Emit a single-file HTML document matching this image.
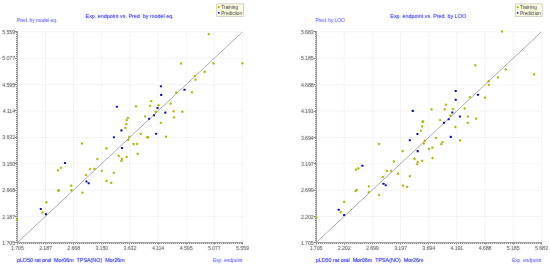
<!DOCTYPE html>
<html><head><meta charset="utf-8"><title>Exp. endpoint vs. Pred.</title>
<style>
html,body{margin:0;padding:0;background:#fff;}
body{width:550px;height:265px;overflow:hidden;}
svg{display:block;}
text{font-family:"Liberation Sans",Arial,sans-serif;}
.g{stroke:#efefef;stroke-width:0.7;}
.d{stroke:#909090;stroke-width:0.72;}
.tl{letter-spacing:-0.16px;font-size:5.4px;fill:#3c3c3c;stroke:#3c3c3c;stroke-width:0px;}
.yl{font-size:5.05px;fill:#4040ff;letter-spacing:-0.11px;}
.ti{font-size:5.4px;fill:#0000f4;font-weight:normal;stroke:#0000f4;stroke-width:0.03px;}
.bl{font-size:5.36px;fill:#0c0cf4;font-weight:normal;stroke:#0c0cf4;stroke-width:0.07px;}
.pt{fill:#bcc800;stroke:#9a9e00;stroke-width:0.45px;}
.pp{fill:#1010c0;}
.lg{fill:#ffffe6;stroke:#b8b8a8;stroke-width:0.6;}
.lt{font-size:4.72px;fill:#262626;}
</style></head>
<body>
<svg width="550" height="265" viewBox="0 0 550 265">
<defs><filter id="bl" x="0" y="0" width="550" height="265" filterUnits="userSpaceOnUse"><feConvolveMatrix order="3" kernelMatrix="1 2 1 2 24 2 1 2 1" divisor="36" edgeMode="none"/></filter></defs>
<rect width="550" height="265" fill="#fff"/>
<line x1="45.52" y1="31.6" x2="45.52" y2="242.5" class="g"/>
<line x1="73.65" y1="31.6" x2="73.65" y2="242.5" class="g"/>
<line x1="101.78" y1="31.6" x2="101.78" y2="242.5" class="g"/>
<line x1="129.9" y1="31.6" x2="129.9" y2="242.5" class="g"/>
<line x1="158.03" y1="31.6" x2="158.03" y2="242.5" class="g"/>
<line x1="186.15" y1="31.6" x2="186.15" y2="242.5" class="g"/>
<line x1="214.28" y1="31.6" x2="214.28" y2="242.5" class="g"/>
<line x1="242.4" y1="31.6" x2="242.4" y2="242.5" class="g"/>
<line x1="17.4" y1="31.9" x2="242.4" y2="31.9" class="g"/>
<line x1="17.4" y1="58.26" x2="242.4" y2="58.26" class="g"/>
<line x1="17.4" y1="84.62" x2="242.4" y2="84.62" class="g"/>
<line x1="17.4" y1="110.99" x2="242.4" y2="110.99" class="g"/>
<line x1="17.4" y1="137.35" x2="242.4" y2="137.35" class="g"/>
<line x1="17.4" y1="163.71" x2="242.4" y2="163.71" class="g"/>
<line x1="17.4" y1="190.08" x2="242.4" y2="190.08" class="g"/>
<line x1="17.4" y1="216.44" x2="242.4" y2="216.44" class="g"/>
<rect x="17" y="31" width="1" height="212" fill="#a4a4a4"/>
<rect x="17" y="242" width="226" height="1" fill="#a4a4a4"/>
<rect x="17" y="243" width="226" height="1" fill="#dcdcdc"/>
<rect x="16" y="31" width="1" height="212" fill="#dcdcdc"/>
<path d="M17 243h1v1h-1zM19 243h1v1h-1zM21 243h1v1h-1zM23 243h1v1h-1zM25 243h1v1h-1zM27 243h1v1h-1zM29 243h1v1h-1zM31 243h1v1h-1zM33 243h1v1h-1zM35 243h1v1h-1zM37 243h1v1h-1zM39 243h1v1h-1zM41 243h1v1h-1zM43 243h1v1h-1zM45 243h1v1h-1zM47 243h1v1h-1zM49 243h1v1h-1zM51 243h1v1h-1zM53 243h1v1h-1zM55 243h1v1h-1zM57 243h1v1h-1zM59 243h1v1h-1zM61 243h1v1h-1zM63 243h1v1h-1zM65 243h1v1h-1zM67 243h1v1h-1zM69 243h1v1h-1zM71 243h1v1h-1zM73 243h1v1h-1zM75 243h1v1h-1zM77 243h1v1h-1zM79 243h1v1h-1zM81 243h1v1h-1zM83 243h1v1h-1zM85 243h1v1h-1zM87 243h1v1h-1zM89 243h1v1h-1zM91 243h1v1h-1zM93 243h1v1h-1zM95 243h1v1h-1zM97 243h1v1h-1zM99 243h1v1h-1zM101 243h1v1h-1zM103 243h1v1h-1zM105 243h1v1h-1zM107 243h1v1h-1zM109 243h1v1h-1zM111 243h1v1h-1zM113 243h1v1h-1zM115 243h1v1h-1zM117 243h1v1h-1zM119 243h1v1h-1zM121 243h1v1h-1zM123 243h1v1h-1zM125 243h1v1h-1zM127 243h1v1h-1zM129 243h1v1h-1zM131 243h1v1h-1zM133 243h1v1h-1zM135 243h1v1h-1zM137 243h1v1h-1zM139 243h1v1h-1zM141 243h1v1h-1zM143 243h1v1h-1zM145 243h1v1h-1zM147 243h1v1h-1zM149 243h1v1h-1zM151 243h1v1h-1zM153 243h1v1h-1zM155 243h1v1h-1zM157 243h1v1h-1zM159 243h1v1h-1zM161 243h1v1h-1zM163 243h1v1h-1zM165 243h1v1h-1zM167 243h1v1h-1zM169 243h1v1h-1zM171 243h1v1h-1zM173 243h1v1h-1zM175 243h1v1h-1zM177 243h1v1h-1zM179 243h1v1h-1zM181 243h1v1h-1zM183 243h1v1h-1zM185 243h1v1h-1zM187 243h1v1h-1zM189 243h1v1h-1zM191 243h1v1h-1zM193 243h1v1h-1zM195 243h1v1h-1zM197 243h1v1h-1zM199 243h1v1h-1zM201 243h1v1h-1zM203 243h1v1h-1zM205 243h1v1h-1zM207 243h1v1h-1zM209 243h1v1h-1zM211 243h1v1h-1zM213 243h1v1h-1zM215 243h1v1h-1zM217 243h1v1h-1zM219 243h1v1h-1zM221 243h1v1h-1zM223 243h1v1h-1zM225 243h1v1h-1zM227 243h1v1h-1zM229 243h1v1h-1zM231 243h1v1h-1zM233 243h1v1h-1zM235 243h1v1h-1zM237 243h1v1h-1zM239 243h1v1h-1zM241 243h1v1h-1zM16 242h1v1h-1zM16 240h1v1h-1zM16 238h1v1h-1zM16 236h1v1h-1zM16 234h1v1h-1zM16 232h1v1h-1zM16 230h1v1h-1zM16 228h1v1h-1zM16 226h1v1h-1zM16 224h1v1h-1zM16 222h1v1h-1zM16 220h1v1h-1zM16 218h1v1h-1zM16 216h1v1h-1zM16 214h1v1h-1zM16 212h1v1h-1zM16 210h1v1h-1zM16 208h1v1h-1zM16 206h1v1h-1zM16 204h1v1h-1zM16 202h1v1h-1zM16 200h1v1h-1zM16 198h1v1h-1zM16 196h1v1h-1zM16 194h1v1h-1zM16 192h1v1h-1zM16 190h1v1h-1zM16 188h1v1h-1zM16 186h1v1h-1zM16 184h1v1h-1zM16 182h1v1h-1zM16 180h1v1h-1zM16 178h1v1h-1zM16 176h1v1h-1zM16 174h1v1h-1zM16 172h1v1h-1zM16 170h1v1h-1zM16 168h1v1h-1zM16 166h1v1h-1zM16 164h1v1h-1zM16 162h1v1h-1zM16 160h1v1h-1zM16 158h1v1h-1zM16 156h1v1h-1zM16 154h1v1h-1zM16 152h1v1h-1zM16 150h1v1h-1zM16 148h1v1h-1zM16 146h1v1h-1zM16 144h1v1h-1zM16 142h1v1h-1zM16 140h1v1h-1zM16 138h1v1h-1zM16 136h1v1h-1zM16 134h1v1h-1zM16 132h1v1h-1zM16 130h1v1h-1zM16 128h1v1h-1zM16 126h1v1h-1zM16 124h1v1h-1zM16 122h1v1h-1zM16 120h1v1h-1zM16 118h1v1h-1zM16 116h1v1h-1zM16 114h1v1h-1zM16 112h1v1h-1zM16 110h1v1h-1zM16 108h1v1h-1zM16 106h1v1h-1zM16 104h1v1h-1zM16 102h1v1h-1zM16 100h1v1h-1zM16 98h1v1h-1zM16 96h1v1h-1zM16 94h1v1h-1zM16 92h1v1h-1zM16 90h1v1h-1zM16 88h1v1h-1zM16 86h1v1h-1zM16 84h1v1h-1zM16 82h1v1h-1zM16 80h1v1h-1zM16 78h1v1h-1zM16 76h1v1h-1zM16 74h1v1h-1zM16 72h1v1h-1zM16 70h1v1h-1zM16 68h1v1h-1zM16 66h1v1h-1zM16 64h1v1h-1zM16 62h1v1h-1zM16 60h1v1h-1zM16 58h1v1h-1zM16 56h1v1h-1zM16 54h1v1h-1zM16 52h1v1h-1zM16 50h1v1h-1zM16 48h1v1h-1zM16 46h1v1h-1zM16 44h1v1h-1zM16 42h1v1h-1zM16 40h1v1h-1zM16 38h1v1h-1zM16 36h1v1h-1zM16 34h1v1h-1zM16 32h1v1h-1z" fill="#8e8e8e"/>
<path d="M17 243h1v1.6h-1zM14.6 242h2.4v1h-2.4zM45 243h1v1.6h-1zM14.6 216h2.4v1h-2.4zM73 243h1v1.6h-1zM14.6 190h2.4v1h-2.4zM101 243h1v1.6h-1zM14.6 163h2.4v1h-2.4zM129 243h1v1.6h-1zM14.6 137h2.4v1h-2.4zM158 243h1v1.6h-1zM14.6 110h2.4v1h-2.4zM186 243h1v1.6h-1zM14.6 84h2.4v1h-2.4zM214 243h1v1.6h-1zM14.6 58h2.4v1h-2.4zM242 243h1v1.6h-1zM14.6 31h2.4v1h-2.4z" fill="#949494"/>
<line x1="17.4" y1="242.6" x2="242.2" y2="32.1" class="d"/>
<rect x="207.93" y="33.23" width="1.75" height="1.75" rx="0.5" class="pt"/>
<rect x="180.22" y="62.62" width="1.75" height="1.75" rx="0.5" class="pt"/>
<rect x="212.53" y="62.52" width="1.75" height="1.75" rx="0.5" class="pt"/>
<rect x="241.53" y="62.42" width="1.75" height="1.75" rx="0.5" class="pt"/>
<rect x="203.82" y="70.92" width="1.75" height="1.75" rx="0.5" class="pt"/>
<rect x="193.93" y="75.12" width="1.75" height="1.75" rx="0.5" class="pt"/>
<rect x="194.62" y="78.72" width="1.75" height="1.75" rx="0.5" class="pt"/>
<rect x="175.32" y="91.72" width="1.75" height="1.75" rx="0.5" class="pt"/>
<rect x="191.12" y="91.42" width="1.75" height="1.75" rx="0.5" class="pt"/>
<rect x="150.43" y="100.22" width="1.75" height="1.75" rx="0.5" class="pt"/>
<rect x="135.12" y="105.53" width="1.75" height="1.75" rx="0.5" class="pt"/>
<rect x="149.22" y="104.92" width="1.75" height="1.75" rx="0.5" class="pt"/>
<rect x="157.62" y="104.33" width="1.75" height="1.75" rx="0.5" class="pt"/>
<rect x="169.62" y="102.72" width="1.75" height="1.75" rx="0.5" class="pt"/>
<rect x="154.93" y="110.92" width="1.75" height="1.75" rx="0.5" class="pt"/>
<rect x="172.72" y="110.42" width="1.75" height="1.75" rx="0.5" class="pt"/>
<rect x="181.53" y="110.83" width="1.75" height="1.75" rx="0.5" class="pt"/>
<rect x="144.22" y="115.62" width="1.75" height="1.75" rx="0.5" class="pt"/>
<rect x="173.12" y="116.53" width="1.75" height="1.75" rx="0.5" class="pt"/>
<rect x="127.03" y="117.12" width="1.75" height="1.75" rx="0.5" class="pt"/>
<rect x="125.72" y="119.22" width="1.75" height="1.75" rx="0.5" class="pt"/>
<rect x="125.53" y="123.33" width="1.75" height="1.75" rx="0.5" class="pt"/>
<rect x="124.53" y="127.03" width="1.75" height="1.75" rx="0.5" class="pt"/>
<rect x="160.03" y="121.92" width="1.75" height="1.75" rx="0.5" class="pt"/>
<rect x="139.93" y="132.93" width="1.75" height="1.75" rx="0.5" class="pt"/>
<rect x="146.22" y="136.43" width="1.75" height="1.75" rx="0.5" class="pt"/>
<rect x="147.32" y="136.32" width="1.75" height="1.75" rx="0.5" class="pt"/>
<rect x="165.12" y="135.82" width="1.75" height="1.75" rx="0.5" class="pt"/>
<rect x="128.32" y="136.22" width="1.75" height="1.75" rx="0.5" class="pt"/>
<rect x="127.32" y="138.93" width="1.75" height="1.75" rx="0.5" class="pt"/>
<rect x="132.62" y="143.12" width="1.75" height="1.75" rx="0.5" class="pt"/>
<rect x="136.22" y="143.12" width="1.75" height="1.75" rx="0.5" class="pt"/>
<rect x="136.82" y="152.93" width="1.75" height="1.75" rx="0.5" class="pt"/>
<rect x="81.12" y="142.53" width="1.75" height="1.75" rx="0.5" class="pt"/>
<rect x="105.62" y="147.53" width="1.75" height="1.75" rx="0.5" class="pt"/>
<rect x="117.92" y="155.03" width="1.75" height="1.75" rx="0.5" class="pt"/>
<rect x="125.72" y="155.93" width="1.75" height="1.75" rx="0.5" class="pt"/>
<rect x="121.03" y="157.93" width="1.75" height="1.75" rx="0.5" class="pt"/>
<rect x="120.53" y="159.93" width="1.75" height="1.75" rx="0.5" class="pt"/>
<rect x="96.53" y="158.22" width="1.75" height="1.75" rx="0.5" class="pt"/>
<rect x="89.03" y="168.22" width="1.75" height="1.75" rx="0.5" class="pt"/>
<rect x="93.62" y="167.93" width="1.75" height="1.75" rx="0.5" class="pt"/>
<rect x="100.92" y="169.93" width="1.75" height="1.75" rx="0.5" class="pt"/>
<rect x="112.92" y="171.93" width="1.75" height="1.75" rx="0.5" class="pt"/>
<rect x="85.12" y="174.22" width="1.75" height="1.75" rx="0.5" class="pt"/>
<rect x="105.72" y="180.12" width="1.75" height="1.75" rx="0.5" class="pt"/>
<rect x="110.42" y="181.93" width="1.75" height="1.75" rx="0.5" class="pt"/>
<rect x="60.12" y="166.93" width="1.75" height="1.75" rx="0.5" class="pt"/>
<rect x="57.12" y="169.43" width="1.75" height="1.75" rx="0.5" class="pt"/>
<rect x="70.42" y="184.82" width="1.75" height="1.75" rx="0.5" class="pt"/>
<rect x="57.52" y="189.53" width="1.75" height="1.75" rx="0.5" class="pt"/>
<rect x="57.92" y="189.72" width="1.75" height="1.75" rx="0.5" class="pt"/>
<rect x="70.53" y="189.53" width="1.75" height="1.75" rx="0.5" class="pt"/>
<rect x="81.62" y="191.82" width="1.75" height="1.75" rx="0.5" class="pt"/>
<rect x="45.52" y="201.43" width="1.75" height="1.75" rx="0.5" class="pt"/>
<rect x="41.62" y="211.62" width="1.75" height="1.75" rx="0.5" class="pt"/>
<rect x="16.12" y="218.43" width="1.75" height="1.75" rx="0.5" class="pt"/>
<rect x="159.85" y="85.15" width="2.1" height="2.1" rx="0.5" class="pp"/>
<rect x="160.15" y="93.85" width="2.1" height="2.1" rx="0.5" class="pp"/>
<rect x="183.45" y="88.65" width="2.1" height="2.1" rx="0.5" class="pp"/>
<rect x="156.45" y="106.95" width="2.1" height="2.1" rx="0.5" class="pp"/>
<rect x="164.25" y="111.55" width="2.1" height="2.1" rx="0.5" class="pp"/>
<rect x="152.95" y="114.25" width="2.1" height="2.1" rx="0.5" class="pp"/>
<rect x="148.05" y="117.65" width="2.1" height="2.1" rx="0.5" class="pp"/>
<rect x="155.05" y="132.75" width="2.1" height="2.1" rx="0.5" class="pp"/>
<rect x="115.85" y="105.65" width="2.1" height="2.1" rx="0.5" class="pp"/>
<rect x="120.35" y="129.35" width="2.1" height="2.1" rx="0.5" class="pp"/>
<rect x="112.85" y="136.15" width="2.1" height="2.1" rx="0.5" class="pp"/>
<rect x="120.95" y="146.95" width="2.1" height="2.1" rx="0.5" class="pp"/>
<rect x="85.45" y="180.45" width="2.1" height="2.1" rx="0.5" class="pp"/>
<rect x="87.65" y="182.25" width="2.1" height="2.1" rx="0.5" class="pp"/>
<rect x="63.95" y="161.95" width="2.1" height="2.1" rx="0.5" class="pp"/>
<rect x="39.75" y="207.95" width="2.1" height="2.1" rx="0.5" class="pp"/>
<rect x="44.85" y="213.05" width="2.1" height="2.1" rx="0.5" class="pp"/>
<rect x="216.8" y="3.9" width="26.6" height="12.5" class="lg"/>
<circle cx="218.8" cy="7.2" r="0.9" class="pt"/>
<rect x="218" y="12.1" width="1.6" height="1.6" class="pp"/>
<line x1="344.18" y1="31.6" x2="344.18" y2="242.6" class="g"/>
<line x1="372.35" y1="31.6" x2="372.35" y2="242.6" class="g"/>
<line x1="400.52" y1="31.6" x2="400.52" y2="242.6" class="g"/>
<line x1="428.7" y1="31.6" x2="428.7" y2="242.6" class="g"/>
<line x1="456.88" y1="31.6" x2="456.88" y2="242.6" class="g"/>
<line x1="485.05" y1="31.6" x2="485.05" y2="242.6" class="g"/>
<line x1="513.22" y1="31.6" x2="513.22" y2="242.6" class="g"/>
<line x1="541.4" y1="31.6" x2="541.4" y2="242.6" class="g"/>
<line x1="316" y1="31.9" x2="541.4" y2="31.9" class="g"/>
<line x1="316" y1="58.27" x2="541.4" y2="58.27" class="g"/>
<line x1="316" y1="84.65" x2="541.4" y2="84.65" class="g"/>
<line x1="316" y1="111.02" x2="541.4" y2="111.02" class="g"/>
<line x1="316" y1="137.4" x2="541.4" y2="137.4" class="g"/>
<line x1="316" y1="163.78" x2="541.4" y2="163.78" class="g"/>
<line x1="316" y1="190.15" x2="541.4" y2="190.15" class="g"/>
<line x1="316" y1="216.53" x2="541.4" y2="216.53" class="g"/>
<rect x="316" y="31" width="1" height="212" fill="#a4a4a4"/>
<rect x="316" y="242" width="226" height="1" fill="#a4a4a4"/>
<rect x="316" y="243" width="226" height="1" fill="#dcdcdc"/>
<rect x="315" y="31" width="1" height="212" fill="#dcdcdc"/>
<path d="M316 243h1v1h-1zM318 243h1v1h-1zM320 243h1v1h-1zM322 243h1v1h-1zM324 243h1v1h-1zM326 243h1v1h-1zM328 243h1v1h-1zM330 243h1v1h-1zM332 243h1v1h-1zM334 243h1v1h-1zM336 243h1v1h-1zM338 243h1v1h-1zM340 243h1v1h-1zM342 243h1v1h-1zM344 243h1v1h-1zM346 243h1v1h-1zM348 243h1v1h-1zM350 243h1v1h-1zM352 243h1v1h-1zM354 243h1v1h-1zM356 243h1v1h-1zM358 243h1v1h-1zM360 243h1v1h-1zM362 243h1v1h-1zM364 243h1v1h-1zM366 243h1v1h-1zM368 243h1v1h-1zM370 243h1v1h-1zM372 243h1v1h-1zM374 243h1v1h-1zM376 243h1v1h-1zM378 243h1v1h-1zM380 243h1v1h-1zM382 243h1v1h-1zM384 243h1v1h-1zM386 243h1v1h-1zM388 243h1v1h-1zM390 243h1v1h-1zM392 243h1v1h-1zM394 243h1v1h-1zM396 243h1v1h-1zM398 243h1v1h-1zM400 243h1v1h-1zM402 243h1v1h-1zM404 243h1v1h-1zM406 243h1v1h-1zM408 243h1v1h-1zM410 243h1v1h-1zM412 243h1v1h-1zM414 243h1v1h-1zM416 243h1v1h-1zM418 243h1v1h-1zM420 243h1v1h-1zM422 243h1v1h-1zM424 243h1v1h-1zM426 243h1v1h-1zM428 243h1v1h-1zM430 243h1v1h-1zM432 243h1v1h-1zM434 243h1v1h-1zM436 243h1v1h-1zM438 243h1v1h-1zM440 243h1v1h-1zM442 243h1v1h-1zM444 243h1v1h-1zM446 243h1v1h-1zM448 243h1v1h-1zM450 243h1v1h-1zM452 243h1v1h-1zM454 243h1v1h-1zM456 243h1v1h-1zM458 243h1v1h-1zM460 243h1v1h-1zM462 243h1v1h-1zM464 243h1v1h-1zM466 243h1v1h-1zM468 243h1v1h-1zM470 243h1v1h-1zM472 243h1v1h-1zM474 243h1v1h-1zM476 243h1v1h-1zM478 243h1v1h-1zM480 243h1v1h-1zM482 243h1v1h-1zM484 243h1v1h-1zM486 243h1v1h-1zM488 243h1v1h-1zM490 243h1v1h-1zM492 243h1v1h-1zM494 243h1v1h-1zM496 243h1v1h-1zM498 243h1v1h-1zM500 243h1v1h-1zM502 243h1v1h-1zM504 243h1v1h-1zM506 243h1v1h-1zM508 243h1v1h-1zM510 243h1v1h-1zM512 243h1v1h-1zM514 243h1v1h-1zM516 243h1v1h-1zM518 243h1v1h-1zM520 243h1v1h-1zM522 243h1v1h-1zM524 243h1v1h-1zM526 243h1v1h-1zM528 243h1v1h-1zM530 243h1v1h-1zM532 243h1v1h-1zM534 243h1v1h-1zM536 243h1v1h-1zM538 243h1v1h-1zM540 243h1v1h-1zM315 242h1v1h-1zM315 240h1v1h-1zM315 238h1v1h-1zM315 236h1v1h-1zM315 234h1v1h-1zM315 232h1v1h-1zM315 230h1v1h-1zM315 228h1v1h-1zM315 226h1v1h-1zM315 224h1v1h-1zM315 222h1v1h-1zM315 220h1v1h-1zM315 218h1v1h-1zM315 216h1v1h-1zM315 214h1v1h-1zM315 212h1v1h-1zM315 210h1v1h-1zM315 208h1v1h-1zM315 206h1v1h-1zM315 204h1v1h-1zM315 202h1v1h-1zM315 200h1v1h-1zM315 198h1v1h-1zM315 196h1v1h-1zM315 194h1v1h-1zM315 192h1v1h-1zM315 190h1v1h-1zM315 188h1v1h-1zM315 186h1v1h-1zM315 184h1v1h-1zM315 182h1v1h-1zM315 180h1v1h-1zM315 178h1v1h-1zM315 176h1v1h-1zM315 174h1v1h-1zM315 172h1v1h-1zM315 170h1v1h-1zM315 168h1v1h-1zM315 166h1v1h-1zM315 164h1v1h-1zM315 162h1v1h-1zM315 160h1v1h-1zM315 158h1v1h-1zM315 156h1v1h-1zM315 154h1v1h-1zM315 152h1v1h-1zM315 150h1v1h-1zM315 148h1v1h-1zM315 146h1v1h-1zM315 144h1v1h-1zM315 142h1v1h-1zM315 140h1v1h-1zM315 138h1v1h-1zM315 136h1v1h-1zM315 134h1v1h-1zM315 132h1v1h-1zM315 130h1v1h-1zM315 128h1v1h-1zM315 126h1v1h-1zM315 124h1v1h-1zM315 122h1v1h-1zM315 120h1v1h-1zM315 118h1v1h-1zM315 116h1v1h-1zM315 114h1v1h-1zM315 112h1v1h-1zM315 110h1v1h-1zM315 108h1v1h-1zM315 106h1v1h-1zM315 104h1v1h-1zM315 102h1v1h-1zM315 100h1v1h-1zM315 98h1v1h-1zM315 96h1v1h-1zM315 94h1v1h-1zM315 92h1v1h-1zM315 90h1v1h-1zM315 88h1v1h-1zM315 86h1v1h-1zM315 84h1v1h-1zM315 82h1v1h-1zM315 80h1v1h-1zM315 78h1v1h-1zM315 76h1v1h-1zM315 74h1v1h-1zM315 72h1v1h-1zM315 70h1v1h-1zM315 68h1v1h-1zM315 66h1v1h-1zM315 64h1v1h-1zM315 62h1v1h-1zM315 60h1v1h-1zM315 58h1v1h-1zM315 56h1v1h-1zM315 54h1v1h-1zM315 52h1v1h-1zM315 50h1v1h-1zM315 48h1v1h-1zM315 46h1v1h-1zM315 44h1v1h-1zM315 42h1v1h-1zM315 40h1v1h-1zM315 38h1v1h-1zM315 36h1v1h-1zM315 34h1v1h-1zM315 32h1v1h-1z" fill="#8e8e8e"/>
<path d="M316 243h1v1.6h-1zM313.6 242h2.4v1h-2.4zM344 243h1v1.6h-1zM313.6 216h2.4v1h-2.4zM372 243h1v1.6h-1zM313.6 190h2.4v1h-2.4zM400 243h1v1.6h-1zM313.6 163h2.4v1h-2.4zM428 243h1v1.6h-1zM313.6 137h2.4v1h-2.4zM456 243h1v1.6h-1zM313.6 111h2.4v1h-2.4zM485 243h1v1.6h-1zM313.6 84h2.4v1h-2.4zM513 243h1v1.6h-1zM313.6 58h2.4v1h-2.4zM541 243h1v1.6h-1zM313.6 31h2.4v1h-2.4z" fill="#949494"/>
<line x1="316" y1="242.7" x2="541.2" y2="32.1" class="d"/>
<rect x="501.12" y="30.62" width="1.75" height="1.75" rx="0.5" class="pt"/>
<rect x="474.43" y="64.53" width="1.75" height="1.75" rx="0.5" class="pt"/>
<rect x="504.93" y="68.53" width="1.75" height="1.75" rx="0.5" class="pt"/>
<rect x="533.23" y="73.53" width="1.75" height="1.75" rx="0.5" class="pt"/>
<rect x="497.02" y="76.53" width="1.75" height="1.75" rx="0.5" class="pt"/>
<rect x="487.73" y="80.53" width="1.75" height="1.75" rx="0.5" class="pt"/>
<rect x="488.02" y="84.03" width="1.75" height="1.75" rx="0.5" class="pt"/>
<rect x="468.93" y="96.22" width="1.75" height="1.75" rx="0.5" class="pt"/>
<rect x="484.12" y="96.72" width="1.75" height="1.75" rx="0.5" class="pt"/>
<rect x="445.12" y="103.83" width="1.75" height="1.75" rx="0.5" class="pt"/>
<rect x="430.62" y="108.42" width="1.75" height="1.75" rx="0.5" class="pt"/>
<rect x="443.93" y="108.42" width="1.75" height="1.75" rx="0.5" class="pt"/>
<rect x="452.02" y="108.12" width="1.75" height="1.75" rx="0.5" class="pt"/>
<rect x="463.73" y="107.53" width="1.75" height="1.75" rx="0.5" class="pt"/>
<rect x="449.62" y="114.83" width="1.75" height="1.75" rx="0.5" class="pt"/>
<rect x="466.93" y="115.62" width="1.75" height="1.75" rx="0.5" class="pt"/>
<rect x="475.32" y="117.72" width="1.75" height="1.75" rx="0.5" class="pt"/>
<rect x="439.23" y="119.22" width="1.75" height="1.75" rx="0.5" class="pt"/>
<rect x="466.93" y="121.92" width="1.75" height="1.75" rx="0.5" class="pt"/>
<rect x="454.52" y="126.12" width="1.75" height="1.75" rx="0.5" class="pt"/>
<rect x="421.62" y="121.03" width="1.75" height="1.75" rx="0.5" class="pt"/>
<rect x="422.32" y="120.42" width="1.75" height="1.75" rx="0.5" class="pt"/>
<rect x="421.32" y="125.62" width="1.75" height="1.75" rx="0.5" class="pt"/>
<rect x="419.93" y="129.82" width="1.75" height="1.75" rx="0.5" class="pt"/>
<rect x="435.02" y="136.93" width="1.75" height="1.75" rx="0.5" class="pt"/>
<rect x="459.32" y="139.53" width="1.75" height="1.75" rx="0.5" class="pt"/>
<rect x="423.93" y="139.72" width="1.75" height="1.75" rx="0.5" class="pt"/>
<rect x="423.02" y="142.43" width="1.75" height="1.75" rx="0.5" class="pt"/>
<rect x="441.73" y="141.32" width="1.75" height="1.75" rx="0.5" class="pt"/>
<rect x="440.43" y="143.32" width="1.75" height="1.75" rx="0.5" class="pt"/>
<rect x="431.52" y="146.82" width="1.75" height="1.75" rx="0.5" class="pt"/>
<rect x="428.12" y="148.12" width="1.75" height="1.75" rx="0.5" class="pt"/>
<rect x="431.73" y="157.32" width="1.75" height="1.75" rx="0.5" class="pt"/>
<rect x="378.12" y="143.12" width="1.75" height="1.75" rx="0.5" class="pt"/>
<rect x="401.73" y="150.22" width="1.75" height="1.75" rx="0.5" class="pt"/>
<rect x="413.62" y="158.12" width="1.75" height="1.75" rx="0.5" class="pt"/>
<rect x="421.23" y="160.03" width="1.75" height="1.75" rx="0.5" class="pt"/>
<rect x="416.82" y="161.03" width="1.75" height="1.75" rx="0.5" class="pt"/>
<rect x="416.23" y="163.22" width="1.75" height="1.75" rx="0.5" class="pt"/>
<rect x="393.02" y="160.62" width="1.75" height="1.75" rx="0.5" class="pt"/>
<rect x="385.93" y="170.12" width="1.75" height="1.75" rx="0.5" class="pt"/>
<rect x="390.12" y="170.12" width="1.75" height="1.75" rx="0.5" class="pt"/>
<rect x="397.23" y="172.72" width="1.75" height="1.75" rx="0.5" class="pt"/>
<rect x="408.93" y="175.32" width="1.75" height="1.75" rx="0.5" class="pt"/>
<rect x="381.93" y="176.12" width="1.75" height="1.75" rx="0.5" class="pt"/>
<rect x="402.12" y="184.72" width="1.75" height="1.75" rx="0.5" class="pt"/>
<rect x="406.32" y="185.93" width="1.75" height="1.75" rx="0.5" class="pt"/>
<rect x="355.02" y="168.72" width="1.75" height="1.75" rx="0.5" class="pt"/>
<rect x="357.52" y="167.62" width="1.75" height="1.75" rx="0.5" class="pt"/>
<rect x="368.02" y="185.43" width="1.75" height="1.75" rx="0.5" class="pt"/>
<rect x="354.73" y="190.03" width="1.75" height="1.75" rx="0.5" class="pt"/>
<rect x="355.82" y="189.12" width="1.75" height="1.75" rx="0.5" class="pt"/>
<rect x="367.82" y="191.32" width="1.75" height="1.75" rx="0.5" class="pt"/>
<rect x="378.23" y="194.12" width="1.75" height="1.75" rx="0.5" class="pt"/>
<rect x="343.32" y="200.93" width="1.75" height="1.75" rx="0.5" class="pt"/>
<rect x="339.82" y="211.32" width="1.75" height="1.75" rx="0.5" class="pt"/>
<rect x="315.12" y="216.32" width="1.75" height="1.75" rx="0.5" class="pt"/>
<rect x="454.65" y="89.95" width="2.1" height="2.1" rx="0.5" class="pp"/>
<rect x="454.65" y="98.75" width="2.1" height="2.1" rx="0.5" class="pp"/>
<rect x="476.95" y="93.65" width="2.1" height="2.1" rx="0.5" class="pp"/>
<rect x="451.25" y="111.45" width="2.1" height="2.1" rx="0.5" class="pp"/>
<rect x="458.85" y="115.45" width="2.1" height="2.1" rx="0.5" class="pp"/>
<rect x="447.65" y="118.25" width="2.1" height="2.1" rx="0.5" class="pp"/>
<rect x="442.95" y="121.65" width="2.1" height="2.1" rx="0.5" class="pp"/>
<rect x="449.75" y="135.85" width="2.1" height="2.1" rx="0.5" class="pp"/>
<rect x="411.75" y="109.85" width="2.1" height="2.1" rx="0.5" class="pp"/>
<rect x="416.35" y="132.95" width="2.1" height="2.1" rx="0.5" class="pp"/>
<rect x="408.75" y="139.25" width="2.1" height="2.1" rx="0.5" class="pp"/>
<rect x="416.65" y="150.05" width="2.1" height="2.1" rx="0.5" class="pp"/>
<rect x="382.45" y="182.75" width="2.1" height="2.1" rx="0.5" class="pp"/>
<rect x="384.65" y="184.15" width="2.1" height="2.1" rx="0.5" class="pp"/>
<rect x="361.45" y="164.65" width="2.1" height="2.1" rx="0.5" class="pp"/>
<rect x="337.65" y="208.65" width="2.1" height="2.1" rx="0.5" class="pp"/>
<rect x="343.05" y="213.95" width="2.1" height="2.1" rx="0.5" class="pp"/>
<rect x="515.6" y="3.9" width="26.6" height="12.5" class="lg"/>
<circle cx="517.6" cy="7.2" r="0.9" class="pt"/>
<rect x="516.8" y="12.1" width="1.6" height="1.6" class="pp"/>
<g filter="url(#bl)">
<text x="17.4" y="250.1" class="tl" text-anchor="middle">1.705</text>
<text x="15" y="244.9" class="tl" text-anchor="end">1.705</text>
<text x="45.52" y="250.1" class="tl" text-anchor="middle">2.187</text>
<text x="15" y="218.54" class="tl" text-anchor="end">2.187</text>
<text x="73.65" y="250.1" class="tl" text-anchor="middle">2.668</text>
<text x="15" y="192.18" class="tl" text-anchor="end">2.668</text>
<text x="101.78" y="250.1" class="tl" text-anchor="middle">3.150</text>
<text x="15" y="165.81" class="tl" text-anchor="end">3.150</text>
<text x="129.9" y="250.1" class="tl" text-anchor="middle">3.632</text>
<text x="15" y="139.45" class="tl" text-anchor="end">3.632</text>
<text x="158.03" y="250.1" class="tl" text-anchor="middle">4.114</text>
<text x="15" y="113.09" class="tl" text-anchor="end">4.114</text>
<text x="186.15" y="250.1" class="tl" text-anchor="middle">4.595</text>
<text x="15" y="86.72" class="tl" text-anchor="end">4.595</text>
<text x="214.28" y="250.1" class="tl" text-anchor="middle">5.077</text>
<text x="15" y="60.36" class="tl" text-anchor="end">5.077</text>
<text x="242.4" y="250.1" class="tl" text-anchor="middle">5.559</text>
<text x="15" y="34" class="tl" text-anchor="end">5.559</text>
<text x="16.8" y="22.3" class="yl">Pred. by model eq.</text>
<text x="242.4" y="262" class="yl" text-anchor="end">Exp. endpoint</text>
<text x="17.1" y="262" class="bl" xml:space="preserve" style="white-space:pre">pLD50 rat oral  Mor06m  TPSA(NO)  Mor26m</text>
<text x="129.6" y="18.4" class="ti" text-anchor="middle">Exp. endpoint vs. Pred. by model eq.</text>
<text x="221.2" y="9.4" class="lt">Training</text>
<text x="221.2" y="15.0" class="lt">Prediction</text>
<text x="316" y="250.2" class="tl" text-anchor="middle">1.705</text>
<text x="313.6" y="245" class="tl" text-anchor="end">1.705</text>
<text x="344.18" y="250.2" class="tl" text-anchor="middle">2.202</text>
<text x="313.6" y="218.62" class="tl" text-anchor="end">2.202</text>
<text x="372.35" y="250.2" class="tl" text-anchor="middle">2.699</text>
<text x="313.6" y="192.25" class="tl" text-anchor="end">2.699</text>
<text x="400.52" y="250.2" class="tl" text-anchor="middle">3.197</text>
<text x="313.6" y="165.88" class="tl" text-anchor="end">3.197</text>
<text x="428.7" y="250.2" class="tl" text-anchor="middle">3.694</text>
<text x="313.6" y="139.5" class="tl" text-anchor="end">3.694</text>
<text x="456.88" y="250.2" class="tl" text-anchor="middle">4.191</text>
<text x="313.6" y="113.12" class="tl" text-anchor="end">4.191</text>
<text x="485.05" y="250.2" class="tl" text-anchor="middle">4.688</text>
<text x="313.6" y="86.75" class="tl" text-anchor="end">4.688</text>
<text x="513.22" y="250.2" class="tl" text-anchor="middle">5.185</text>
<text x="313.6" y="60.37" class="tl" text-anchor="end">5.185</text>
<text x="541.4" y="250.2" class="tl" text-anchor="middle">5.683</text>
<text x="313.6" y="34" class="tl" text-anchor="end">5.683</text>
<text x="315.4" y="22.3" class="yl">Pred. by LOO</text>
<text x="541.4" y="262" class="yl" text-anchor="end">Exp. endpoint</text>
<text x="315.7" y="262" class="bl" xml:space="preserve" style="white-space:pre">pLD50 rat oral  Mor06m  TPSA(NO)  Mor26m</text>
<text x="428.2" y="18.4" class="ti" text-anchor="middle">Exp. endpoint vs. Pred. by LOO</text>
<text x="520" y="9.4" class="lt">Training</text>
<text x="520" y="15.0" class="lt">Prediction</text>
</g>
</svg>
</body></html>
